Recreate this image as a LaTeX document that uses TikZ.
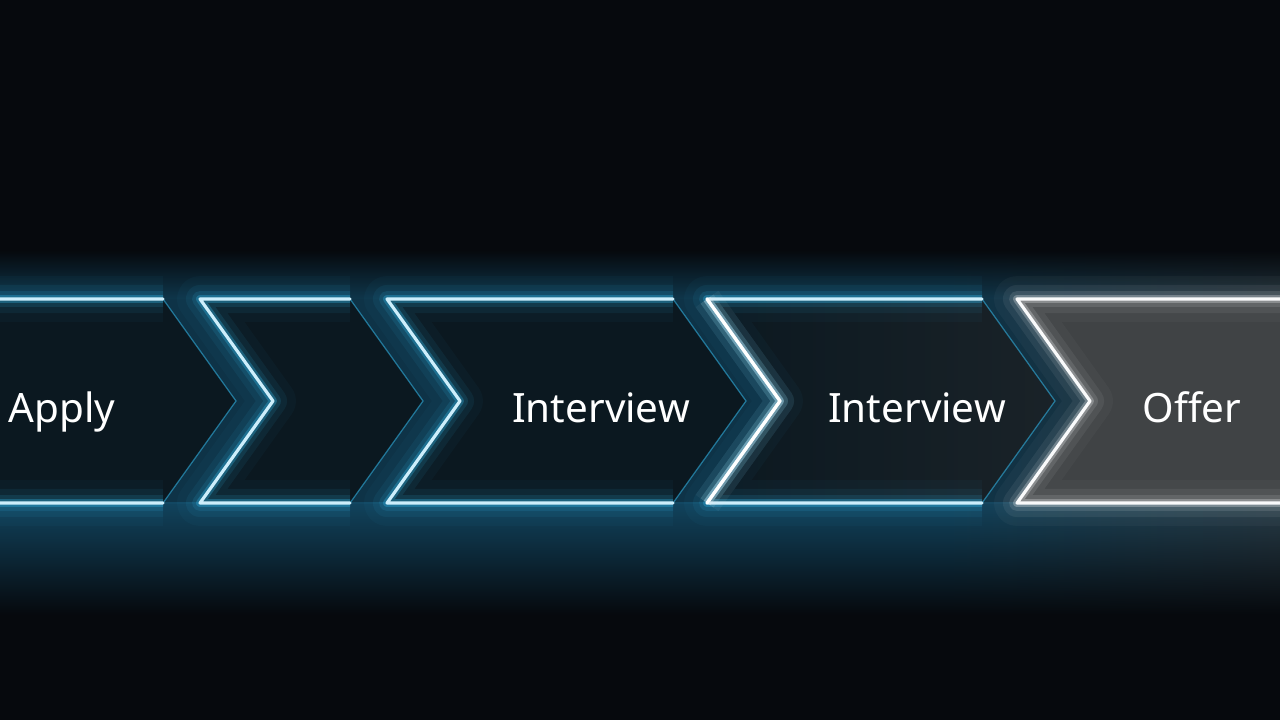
\documentclass[tikz,border=0pt]{standalone}
\usepackage{fontspec}
\setsansfont{Noto Sans}
\usetikzlibrary{calc, fadings}
\definecolor{bgdark}{HTML}{06090D}
\definecolor{hazeblue}{HTML}{134A66}
\definecolor{hazegray}{HTML}{3A3F43}
\definecolor{gapblue}{HTML}{0E3347}
\definecolor{gapgray}{HTML}{2A2E31}
\definecolor{neonblue}{HTML}{35BDF0}
\definecolor{neonwhite}{HTML}{E8ECEE}
\definecolor{cellblue}{HTML}{0B1820}
\definecolor{cellgray}{HTML}{303234}
\definecolor{celllight}{HTML}{404345}
\pgfdeclarehorizontalshading{bandshade}{100bp}{color(0bp)=(hazeblue); color(62bp)=(hazeblue); color(82bp)=(hazegray); color(100bp)=(hazegray)}
\pgfdeclarehorizontalshading{gapshade}{100bp}{color(0bp)=(gapblue); color(62bp)=(gapblue); color(80bp)=(gapgray); color(100bp)=(gapgray)}
\tikzfading[name=hazedown, top color=transparent!10, bottom color=transparent!100]
\tikzfading[name=hazeup, top color=transparent!100, bottom color=transparent!30]
\tikzset{
    steplabel/.style={text=white, font=\sffamily\fontsize{23}{23}\selectfont, anchor=base, inner sep=0pt},
    neoncore/.style={line width=1.8pt, line join=round, line cap=round}
}

\begin{document}
\begin{tikzpicture}[x=0.02cm, y=-0.02cm]
        \useasboundingbox (0,0) rectangle (1280,720);
        \fill[bgdark] (0,0) rectangle (1280,720);
        % glow band behind the chevrons
        \shade[shading=bandshade, path fading=hazeup] (0,250) rectangle (1280,299);
        \shade[shading=gapshade] (0,299) rectangle (1280,503);
        \shade[shading=bandshade, path fading=hazedown] (0,503) rectangle (1280,615);
        % chevron bodies
        \foreach \l/\r in {-120/163, 200/350, 387/673} {
            \fill[cellblue] (\l,299) -- (\r,299) -- ({\r+73},401) -- (\r,503) -- (\l,503) -- ({\l+73},401) -- cycle;
        }
        \shade[left color=cellblue, right color=cellgray!40!cellblue]
            (707,299) -- (982,299) -- (1055,401) -- (982,503) -- (707,503) -- (780,401) -- cycle;
        \shade[top color=celllight, middle color=cellgray, bottom color=celllight]
            (1017,299) -- (1400,299) -- (1473,401) -- (1400,503) -- (1017,503) -- (1090,401) -- cycle;
        % neon outlines
        \foreach \l/\r/\c in {-120/163/neonblue, 200/350/neonblue, 387/673/neonblue, 707/982/neonblue, 1017/1400/neonwhite} {
            \draw[\c, line width=0.7pt, opacity=0.55] (\r,299) -- ({\r+73},401) -- (\r,503);
            \foreach \w/\o in {26/0.035, 16/0.07, 9/0.12, 4.5/0.3} {
                \draw[\c, line width=\w pt, opacity=\o, line join=round]
                    (\r,299) -- (\l,299) -- ({\l+73},401) -- (\l,503) -- (\r,503);
            }
            \draw[\c!25!white, neoncore] (\r,299) -- (\l,299) -- ({\l+73},401) -- (\l,503) -- (\r,503);
        }
        % the fourth notch is lit white
        \foreach \w/\o in {16/0.05, 9/0.1, 4.5/0.3} {
            \draw[neonwhite, line width=\w pt, opacity=\o, line join=round] (707,299) -- (780,401) -- (707,503);
        }
        \draw[white, neoncore] (707,299) -- (780,401) -- (707,503);
        % labels
        \node[steplabel] (apply) at (62,422) {Apply};
        \node[steplabel] (interview1) at (601,422) {Interview};
        \node[steplabel] (interview2) at (917,422) {Interview};
        \node[steplabel] (offer) at (1192,422) {Offer};
    \end{tikzpicture}
\end{document}
